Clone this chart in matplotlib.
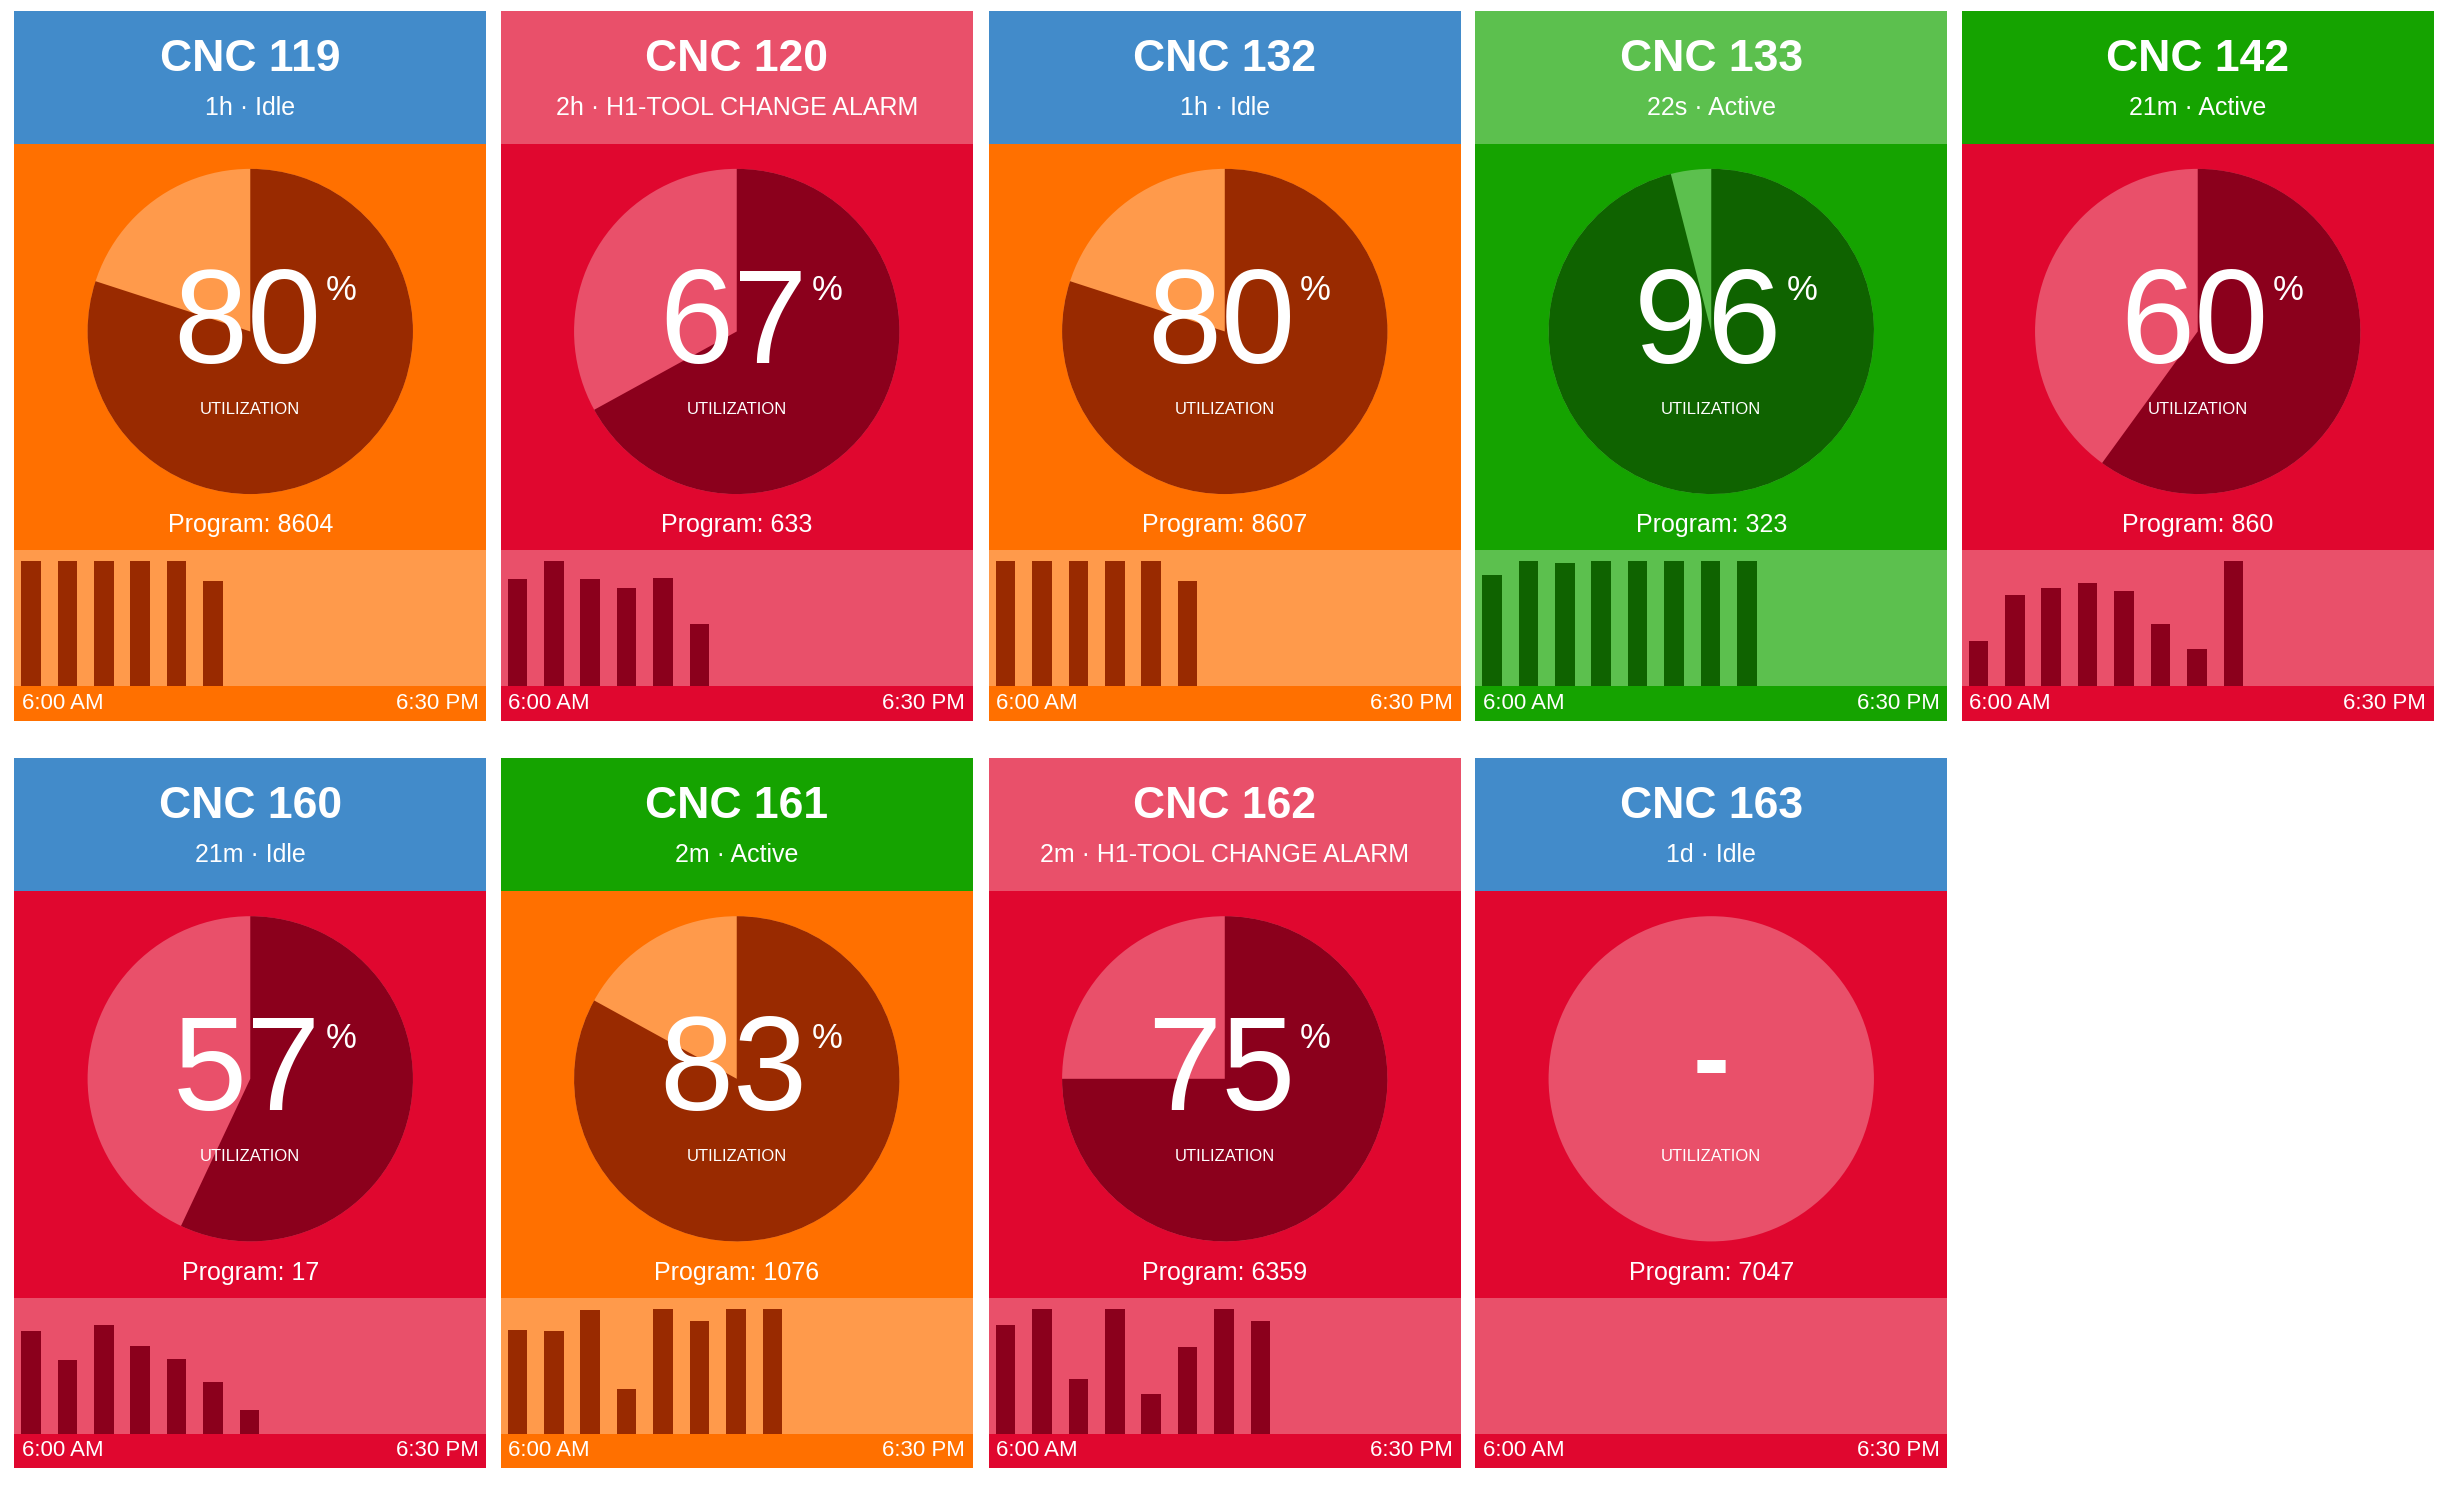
import matplotlib
matplotlib.use("Agg")
import matplotlib.pyplot as plt
from matplotlib.patches import Rectangle, Wedge, Circle

plt.rcParams['font.family'] = ['Liberation Sans', 'DejaVu Sans']

names = ["CNC 119", "CNC 120", "CNC 132", "CNC 133", "CNC 142",
         "CNC 160", "CNC 161", "CNC 162", "CNC 163"]
subtitles = ["1h · Idle", "2h · H1-TOOL CHANGE ALARM", "1h · Idle", "22s · Active", "21m · Active",
             "21m · Idle", "2m · Active", "2m · H1-TOOL CHANGE ALARM", "1d · Idle"]
utilization = [80, 67, 80, 96, 60, 57, 83, 75, None]
programs = ["8604", "633", "8607", "323", "860", "17", "1076", "6359", "7047"]
header_kind = ["idle", "alarm", "idle", "active_light", "active", "idle", "active", "alarm", "idle"]
body_kind = ["orange", "red", "orange", "green", "red", "red", "orange", "red", "red"]
hourly = [
    [100, 100, 100, 100, 100, 84],
    [86, 100, 86, 79, 87, 50],
    [100, 100, 100, 100, 100, 84],
    [89, 100, 99, 100, 100, 100, 100, 100],
    [36, 73, 79, 83, 76, 50, 30, 100],
    [82, 59, 87, 70, 60, 41, 19],
    [83, 82, 99, 36, 100, 90, 100, 100],
    [87, 100, 44, 100, 32, 69, 100, 90],
    [],
]
start_label = "6:00 AM"
end_label = "6:30 PM"

header_colors = {"idle": "#428BCA", "alarm": "#E9506A", "active_light": "#5CC04E", "active": "#15A300"}
palettes = {  # main, light, dark
    "orange": ("#FF7000", "#FF9A4B", "#992A00"),
    "red": ("#E0072F", "#E9506A", "#8B001C"),
    "green": ("#15A300", "#5CC04E", "#0F6300"),
}

W, H = 1565, 953
fig = plt.figure(figsize=(24.48, 14.90), dpi=100)
ax = fig.add_axes([0, 0, 1, 1])
ax.set_xlim(0, W)
ax.set_ylim(H, 0)
ax.axis('off')

col_x = [9, 320, 632, 943, 1254]
row_y = [7, 485]
cw = 302

for i, name in enumerate(names):
    x0 = col_x[i % 5]
    y0 = row_y[i // 5]
    main, light, dark = palettes[body_kind[i]]
    cx = x0 + cw / 2
    # header
    ax.add_patch(Rectangle((x0, y0), cw, 85, color=header_colors[header_kind[i]], lw=0))
    ax.text(cx, y0 + 31, name, color='white', fontsize=32, fontweight='bold', ha='center', va='center')
    ax.text(cx, y0 + 62, subtitles[i], color='white', fontsize=18, ha='center', va='center')
    # body
    ax.add_patch(Rectangle((x0, y0 + 85), cw, 260, color=main, lw=0))
    pcy = y0 + 205
    ax.add_patch(Circle((cx, pcy), 104, color=light, lw=0))
    u = utilization[i]
    if u is not None:
        # y axis is inverted, so -90 is 12 o'clock and angles run clockwise
        ax.add_patch(Wedge((cx, pcy), 104, -90, -90 + u * 3.6, color=dark, lw=0))
        ax.text(cx - 2, pcy - 2, str(u), color='white', fontsize=96, ha='center', va='center')
        ax.text(cx + 58, pcy - 26, "%", color='white', fontsize=25, ha='center', va='center')
    else:
        ax.text(cx, pcy - 8, "-", color='white', fontsize=80, fontweight='bold', ha='center', va='center')
    ax.text(cx, pcy + 50, "UTILIZATION", color='white', fontsize=12, ha='center', va='center')
    ax.text(cx, y0 + 329, "Program: " + programs[i], color='white', fontsize=18, ha='center', va='center')
    # hourly bars
    by = y0 + 345
    ax.add_patch(Rectangle((x0, by), cw, 87, color=light, lw=0))
    vals = hourly[i]
    xs = [x0 + 4.5 + 6.25 + k * 23.3 for k in range(len(vals))]
    hs = [-v / 100 * 80 for v in vals]
    ax.bar(xs, hs, width=12.5, bottom=by + 87, color=dark, lw=0)
    # footer
    ax.add_patch(Rectangle((x0, by + 87), cw, 22, color=main, lw=0))
    ax.text(x0 + 5, by + 98, start_label, color='white', fontsize=16, ha='left', va='center')
    ax.text(x0 + cw - 5, by + 98, end_label, color='white', fontsize=16, ha='right', va='center')

fig.savefig("out.png", dpi=100, facecolor='white')
